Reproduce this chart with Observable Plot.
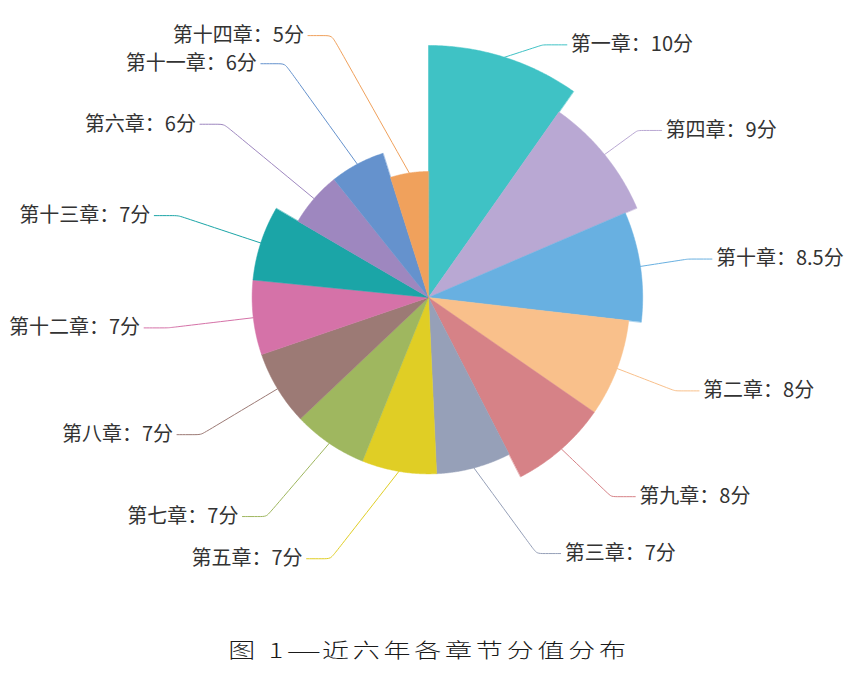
<!DOCTYPE html>
<html>
<head>
<meta charset="utf-8">
<script src="https://cdn.jsdelivr.net/npm/d3@7"></script>
<script src="https://cdn.jsdelivr.net/npm/@observablehq/plot@0.6"></script>
<style>
  html, body { margin: 0; padding: 0; background: #fff; }
  #wrap { width: 848px; height: 680px; overflow: hidden; }
  #title {
    width: 848px; text-align: center; box-sizing: border-box;
    font-family: "Noto Sans CJK SC", sans-serif; font-weight: 300;
    font-size: 27px; line-height: 32px;
    color: #1a1a1a; padding-top: 14px; padding-left: 10px;
  }
  #title .t { display: inline-block; transform: scaleY(0.74); letter-spacing: 3.8px; white-space: nowrap; }
  #title .dash { display: inline-block; transform: scaleX(1.45); margin: 0 6px 0 5px; letter-spacing: 0; }
</style>
</head>
<body>
<div id="wrap">
  <div id="chart"></div>
  <div id="title"><span class="t">图 1<span class="dash">—</span>近六年各章节分值分布</span></div>
</div>
<script>
// ---- data ----
const chapters = ["第一章","第四章","第十章","第二章","第九章","第三章","第五章","第七章","第八章","第十二章","第十三章","第六章","第十一章","第十四章"];
const scores = [10, 9, 8.5, 8, 8, 7, 7, 7, 7, 7, 7, 6, 6, 5];
const colors = ["#3fc2c5","#b9a8d3","#68b0e1","#f9c08b","#d68287","#96a0b8","#e0ce25","#9fb75f","#9c7a75","#d572a8","#1ba5a7","#9e87bf","#6592cd","#f0a15c"];

// ---- layout ----
const W = 848, H = 620, cx = 428, cy = 297;
const k = 25.2;            // pixels per score point (radius)
const Rb = 265 / k;         // label row radius
const Rt = 290 / k;         // label text radius
const gap = 4 / k, len2 = 24 / k;

const total = d3.sum(scores);
let acc = 0;
const items = chapters.map((name, i) => {
  const v = scores[i];
  const a0 = acc / total * 2 * Math.PI; acc += v;
  const a1 = acc / total * 2 * Math.PI;
  return {name, v, color: colors[i], a0, a1, mid: (a0 + a1) / 2};
});

const sectorPts = items.flatMap(d => {
  const pts = [{name: d.name, color: d.color, x: 0, y: 0}];
  const n = 80;
  for (let j = 0; j <= n; j++) {
    const a = d.a0 + (d.a1 - d.a0) * j / n;
    pts.push({name: d.name, color: d.color, x: d.v * Math.sin(a), y: d.v * Math.cos(a)});
  }
  return pts;
});

const linePts = [], labels = [];
items.forEach(d => {
  const s = Math.sin(d.mid) >= 0 ? 1 : -1;
  const ly = Rb * Math.cos(d.mid);
  const tx = s * Math.sqrt(Rt * Rt - ly * ly);
  const ex = tx - s * gap, bx = ex - s * len2;
  const sx = d.v * Math.sin(d.mid), sy = d.v * Math.cos(d.mid);
  const t = 0.12;
  linePts.push({name: d.name, color: d.color, x: sx, y: sy});
  linePts.push({name: d.name, color: d.color, x: bx + (sx - bx) * t * 0.5, y: ly + (sy - ly) * t * 0.5});
  linePts.push({name: d.name, color: d.color, x: bx, y: ly});
  linePts.push({name: d.name, color: d.color, x: bx + (ex - bx) * 0.3, y: ly});
  linePts.push({name: d.name, color: d.color, x: ex, y: ly});
  labels.push({x: tx, y: ly, side: s, text: `${d.name}：${d.v}分`});
});

const font = {fontSize: 20, fill: "#333", fontFamily: "'Noto Sans CJK SC', sans-serif"};

const plot = Plot.plot({
  width: W, height: H, margin: 0,
  style: {background: "#fff"},
  x: {domain: [-cx / k, (W - cx) / k], axis: null},
  y: {domain: [-(H - cy) / k, cy / k], axis: null},
  color: {type: "identity"},
  marks: [
    Plot.line(sectorPts, {x: "x", y: "y", z: "name", fill: "color", stroke: "color", strokeWidth: 0.5, curve: "linear-closed"}),
    Plot.line(linePts, {x: "x", y: "y", z: "name", stroke: "color", strokeWidth: 1, curve: "basis"}),
    Plot.text(labels.filter(d => d.side > 0), {x: "x", y: "y", text: "text", textAnchor: "start", ...font}),
    Plot.text(labels.filter(d => d.side < 0), {x: "x", y: "y", text: "text", textAnchor: "end", ...font})
  ]
});
document.getElementById("chart").appendChild(plot);
</script>
</body>
</html>
